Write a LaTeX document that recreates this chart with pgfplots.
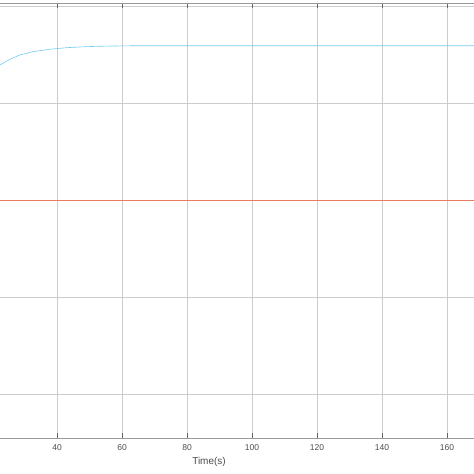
\documentclass[border=0pt]{standalone}
\usepackage{fontspec}
\setmainfont{Liberation Sans}
\usepackage{pgfplots}
\pgfplotsset{compat=1.18}
\definecolor{mlblue}{RGB}{77,190,238}
\definecolor{mlred}{RGB}{226,100,70}

\begin{document}
\begin{tikzpicture}
\useasboundingbox (0pt,0pt) rectangle (474pt,474pt);
\clip (0pt,0pt) rectangle (474pt,474pt);
\begin{axis}[
    at={(0pt,36pt)}, anchor=south west,
    scale only axis,
    width=474pt, height=434.5pt,
    xmin=22.46, xmax=168.31,
    ymin=0.1093, ymax=1.005,
    xtick={40,60,80,100,120,140,160},
    ytick={0.2,0.4,0.6,0.8,1.0},
    yticklabels={},
    grid=major,
    major grid style={black!20, line width=0.6pt},
    separate axis lines,
    x axis line style={black!40, line width=0.7pt},
    y axis line style={draw=none},
    ytick style={draw=none},
    xtick style={black!60, line width=0.6pt},
    major tick length=5pt,
    tick label style={font=\fontsize{8.5}{10}\selectfont, text=black!70},
    /pgf/number format/assume math mode=true,
    xticklabel style={yshift=-3pt},
    xlabel={Time(s)},
    xlabel style={at={(rel axis cs:0.441,0)}, anchor=center, yshift=-24pt,
                  font=\fontsize{10}{12}\selectfont, text=black!70},
]

% reference value
\addplot[mlred!85, line width=0.6pt] coordinates {
    (22.46,0.6) (168.31,0.6)
};

% response
\addplot[mlblue!80, line width=0.6pt] coordinates {
    (22.46,0.8784) (25.54,0.8901) (28.62,0.8990) (32.62,0.9058)
    (37.85,0.9107) (43.08,0.9140) (49.23,0.9161) (55.38,0.9172)
    (62.46,0.9178) (80,0.9180) (168.31,0.9180)
};

\end{axis}
\end{tikzpicture}
\end{document}
